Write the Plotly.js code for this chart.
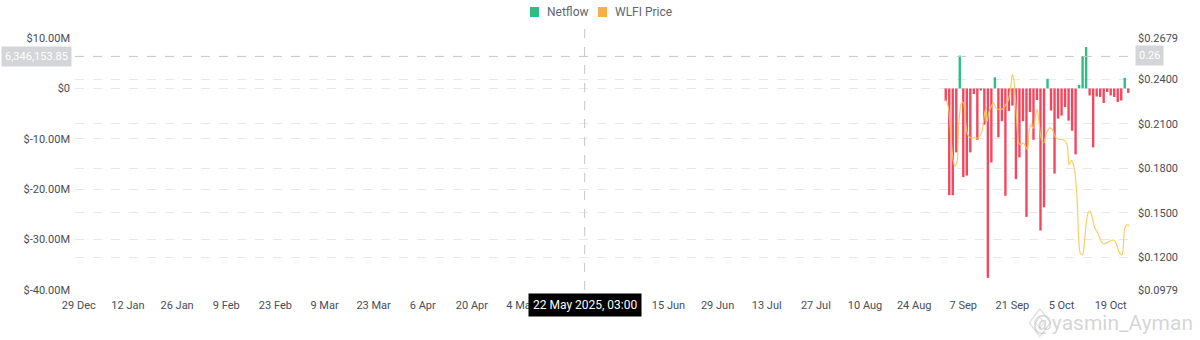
<!DOCTYPE html>
<html>
<head>
<meta charset="utf-8">
<script src="https://cdn.plot.ly/plotly-3.0.1.min.js"></script>
<style>
  html, body { margin: 0; padding: 0; background: #ffffff; }
  #chart { width: 1200px; height: 340px; }
</style>
</head>
<body>
<div id="chart"></div>
<script>
// ---- Data ----
const netflowDates = [
  "2025-09-02","2025-09-03","2025-09-04","2025-09-05","2025-09-06","2025-09-07","2025-09-08",
  "2025-09-09","2025-09-10","2025-09-11","2025-09-12","2025-09-13","2025-09-14","2025-09-15",
  "2025-09-16","2025-09-17","2025-09-18","2025-09-19","2025-09-20","2025-09-21","2025-09-22",
  "2025-09-23","2025-09-24","2025-09-25","2025-09-26","2025-09-27","2025-09-28","2025-09-29",
  "2025-09-30","2025-10-01","2025-10-02","2025-10-03","2025-10-04","2025-10-05","2025-10-06",
  "2025-10-07","2025-10-08","2025-10-09","2025-10-10","2025-10-11","2025-10-12","2025-10-13",
  "2025-10-14","2025-10-15","2025-10-16","2025-10-17","2025-10-18","2025-10-19","2025-10-20",
  "2025-10-21","2025-10-22","2025-10-23","2025-10-24"
];
const netflowValues = [
  -2.5e6, -21.2e6, -21.2e6, -12.7e6, 6.5e6, -17.6e6, -17.3e6,
  -12.7e6, -1.1e6, -10.2e6, -0.4e6, -7.2e6, -37.6e6, -14.7e6,
  2.2e6, -9.7e6, -6.5e6, -21.3e6, -4.5e6, -3.4e6, -18.0e6,
  -13.7e6, -6.5e6, -25.5e6, -4.7e6, -10.2e6, -2.3e6, -28.2e6,
  -23.6e6, 1.9e6, -4.4e6, -16.9e6, -6.0e6, -5.4e6, -3.7e6,
  -6.4e6, -8.4e6, -13.1e6, 0.7e6, 6.4e6, 8.2e6, -1.4e6,
  -11.7e6, -1.6e6, -1.7e6, -2.9e6, -0.7e6, -1.4e6, -1.7e6,
  -2.7e6, -2.4e6, 2.1e6, -0.9e6
];

const priceTimes = [
  "2025-09-01 22:00","2025-09-02 16:00","2025-09-03 11:00","2025-09-04 02:00","2025-09-04 14:00",
  "2025-09-05 04:00","2025-09-05 12:00","2025-09-06 00:00","2025-09-06 12:00","2025-09-07 01:00",
  "2025-09-07 10:00","2025-09-08 02:00","2025-09-08 16:00","2025-09-09 08:00","2025-09-10 07:00",
  "2025-09-11 05:00","2025-09-12 05:00","2025-09-12 20:00","2025-09-13 08:00","2025-09-13 19:00",
  "2025-09-14 08:00","2025-09-15 01:00","2025-09-15 14:00","2025-09-16 11:00","2025-09-17 10:00",
  "2025-09-18 08:00","2025-09-19 00:00","2025-09-19 18:00","2025-09-20 13:00","2025-09-21 00:00",
  "2025-09-21 11:00","2025-09-21 21:00","2025-09-22 11:00","2025-09-22 19:00","2025-09-23 09:00",
  "2025-09-24 01:00","2025-09-24 17:00","2025-09-25 07:00","2025-09-25 18:00","2025-09-26 06:00",
  "2025-09-26 21:00","2025-09-27 16:00","2025-09-28 01:00","2025-09-28 14:00","2025-09-29 07:00",
  "2025-09-29 22:00","2025-09-30 17:00","2025-10-01 15:00","2025-10-02 10:00","2025-10-03 02:00",
  "2025-10-04 00:00","2025-10-05 10:00","2025-10-06 10:00","2025-10-06 21:00","2025-10-07 03:00",
  "2025-10-07 20:00","2025-10-08 12:00","2025-10-09 01:00","2025-10-09 13:00","2025-10-09 22:00",
  "2025-10-10 09:00","2025-10-10 23:00","2025-10-11 10:00","2025-10-11 22:00","2025-10-12 13:00",
  "2025-10-13 01:00","2025-10-13 15:00","2025-10-14 11:00","2025-10-15 11:00","2025-10-16 09:00",
  "2025-10-17 03:00","2025-10-18 07:00","2025-10-19 21:00","2025-10-20 18:00","2025-10-21 09:00",
  "2025-10-22 04:00","2025-10-22 15:00","2025-10-23 00:00","2025-10-23 14:00","2025-10-24 06:00"
];
const priceValues = [
  0.2264,0.2219,0.2016,0.1858,0.1817,
  0.1836,0.1993,0.2176,0.2244,0.2242,
  0.2176,0.2041,0.2012,0.2005,0.2005,
  0.2005,0.2039,0.2129,0.2197,0.2117,
  0.2185,0.2219,0.2242,0.2201,0.2197,
  0.2201,0.2224,0.2253,0.2355,0.2434,
  0.2388,0.2264,0.2039,0.1971,0.1960,
  0.1971,0.1948,0.1926,0.2050,0.2095,
  0.2068,0.2163,0.2197,0.2107,0.1993,
  0.1971,0.2039,0.2073,0.2061,0.2016,
  0.1998,0.1993,0.1971,0.1892,0.1824,
  0.1853,0.1813,0.1722,0.1542,0.1316,
  0.1226,0.1219,0.1271,0.1406,0.1497,
  0.1512,0.1479,0.1397,0.1357,0.1304,
  0.1291,0.1302,0.1316,0.1282,0.1237,
  0.1214,0.1282,0.1395,0.1418,0.1413
];

// x ticks visible in the reference (18 May and 1 Jun are hidden under the crosshair label)
const xTickVals = [
  "2024-12-29","2025-01-12","2025-01-26","2025-02-09","2025-02-23","2025-03-09","2025-03-23",
  "2025-04-06","2025-04-20","2025-05-04","2025-06-15","2025-06-29","2025-07-13","2025-07-27",
  "2025-08-10","2025-08-24","2025-09-07","2025-09-21","2025-10-05","2025-10-19"
];
const xTickText = [
  "29 Dec","12 Jan","26 Jan","9 Feb","23 Feb","9 Mar","23 Mar",
  "6 Apr","20 Apr","4 May","15 Jun","29 Jun","13 Jul","27 Jul",
  "10 Aug","24 Aug","7 Sep","21 Sep","5 Oct","19 Oct"
];
const leftTickVals = [10e6, 0, -10e6, -20e6, -30e6, -40e6];
const leftTickText = ["$10.00M", "$0", "$-10.00M", "$-20.00M", "$-30.00M", "$-40.00M"];
const rightTickVals = [0.2679, 0.24, 0.21, 0.18, 0.15, 0.12, 0.0979];
const rightTickText = ["$0.2679", "$0.2400", "$0.2100", "$0.1800", "$0.1500", "$0.1200", "$0.0979"];
const seriesNames = ["Netflow", "WLFI Price"];

const crossDate = "2025-05-22 03:00";
const crossLabel = "22 May 2025, 03:00";
const crossLeftValue = 6346153.85;
const crossLeftLabel = "6,346,153.85";
const crossRightValue = 0.2563;
const crossRightLabel = "0.26";

// ---- Styling ----
const GREEN = "#2ebd85";
const RED = "#f6465d";
const ORANGE = "#f5b04a";
const LINE = "rgba(250,200,90,0.9)";
const GRID = "#e6e8ea";
const TXT = "#474d57";
const FONT = "Roboto, 'Noto Sans', Arial, sans-serif";

const barColors = netflowValues.map(v => v >= 0 ? GREEN : RED);

const traces = [
  {
    type: "bar", x: netflowDates, y: netflowValues, yaxis: "y",
    marker: { color: barColors, line: { width: 0 } },
    showlegend: false, name: seriesNames[0], hoverinfo: "x+y"
  },
  {
    type: "scatter", mode: "lines", x: priceTimes, y: priceValues, yaxis: "y2",
    line: { color: LINE, width: 1.2, shape: "spline", smoothing: 1 },
    showlegend: false, name: seriesNames[1], hoverinfo: "x+y"
  }
];

// legend geometry (paper coords; plot spans 75..1130 px horizontally, 38..290 px vertically)
const PX = px => (px - 75) / 1055;
const PY = py => (290 - py) / 252;

const layout = {
  width: 1200, height: 340,
  margin: { l: 75, r: 70, t: 38, b: 50, pad: 0 },
  paper_bgcolor: "#ffffff", plot_bgcolor: "#ffffff",
  font: { family: FONT, size: 11, color: TXT },
  barmode: "overlay", bargap: 0.32,
  showlegend: false,
  xaxis: {
    type: "date",
    range: ["2024-12-27 22:00", "2025-10-24 12:00"],
    tickmode: "array", tickvals: xTickVals, ticktext: xTickText,
    showgrid: false, zeroline: false, showline: false, ticks: "",
    ticklabelstandoff: 7,
    tickfont: { family: FONT, size: 11, color: TXT }
  },
  yaxis: {
    range: [-40e6, 10e6],
    tickmode: "array", tickvals: leftTickVals, ticktext: leftTickText,
    showgrid: true, gridcolor: GRID, griddash: "dash", gridwidth: 1,
    zeroline: false, showline: false, ticks: "",
    ticklabelstandoff: 4,
    tickfont: { family: FONT, size: 11, color: TXT }
  },
  yaxis2: {
    overlaying: "y", side: "right",
    range: [0.0979, 0.2679],
    tickmode: "array", tickvals: rightTickVals, ticktext: rightTickText,
    showgrid: true, gridcolor: GRID, griddash: "dash", gridwidth: 1,
    zeroline: false, showline: false, ticks: "",
    ticklabelstandoff: 7,
    tickfont: { family: FONT, size: 11, color: TXT }
  },
  shapes: [
    // legend swatches
    { type: "rect", xref: "paper", yref: "paper", x0: PX(530), x1: PX(539), y0: PY(17), y1: PY(7),
      fillcolor: GREEN, line: { width: 0 } },
    { type: "rect", xref: "paper", yref: "paper", x0: PX(598), x1: PX(607), y0: PY(17), y1: PY(7),
      fillcolor: ORANGE, line: { width: 0 } },
    // crosshair
    { type: "line", xref: "x", yref: "paper", x0: crossDate, x1: crossDate, y0: 0, y1: 1.04,
      line: { color: "#c4c7cc", width: 1, dash: "dash" } },
    { type: "line", xref: "paper", yref: "y", x0: 0, x1: 1.003, y0: crossLeftValue, y1: crossLeftValue,
      line: { color: "#c4c7cc", width: 1, dash: "dash" } },
    // watermark logo (simple diamond outline)
    { type: "path", xref: "paper", yref: "paper",
      path: "M 0.9145 -0.075 L 0.9245 -0.13 L 0.9145 -0.185 L 0.9045 -0.13 Z",
      line: { color: "rgba(190,190,190,0.55)", width: 1.2 }, fillcolor: "rgba(0,0,0,0)" },
    { type: "path", xref: "paper", yref: "paper",
      path: "M 0.9145 -0.108 L 0.9185 -0.13 L 0.9145 -0.152 L 0.9105 -0.13 Z",
      line: { color: "rgba(190,190,190,0.55)", width: 1 }, fillcolor: "rgba(0,0,0,0)" }
  ],
  annotations: [
    // legend labels
    { xref: "paper", yref: "paper", x: PX(545), y: PY(12), xanchor: "left", yanchor: "middle",
      text: seriesNames[0], showarrow: false, font: { family: FONT, size: 12, color: "#5e6673" } },
    { xref: "paper", yref: "paper", x: PX(613), y: PY(12), xanchor: "left", yanchor: "middle",
      text: seriesNames[1], showarrow: false, font: { family: FONT, size: 12, color: "#5e6673" } },
    // crosshair labels
    { xref: "paper", yref: "y", x: 0, y: crossLeftValue, xanchor: "right", yanchor: "middle",
      xshift: -3, text: crossLeftLabel, showarrow: false,
      bgcolor: "#d3d5d8", borderpad: 3, font: { family: FONT, size: 11, color: "#ffffff" } },
    { xref: "paper", yref: "y2", x: 1, y: crossRightValue, xanchor: "left", yanchor: "middle",
      xshift: 5, text: crossRightLabel, showarrow: false,
      bgcolor: "#d3d5d8", borderpad: 3, font: { family: FONT, size: 11, color: "#ffffff" } },
    { xref: "x", yref: "paper", x: crossDate, y: 0, xanchor: "center", yanchor: "top",
      yshift: -3, text: crossLabel, showarrow: false,
      bgcolor: "#000000", borderpad: 4, font: { family: FONT, size: 12, color: "#ffffff" } },
    // watermark
    { xref: "paper", yref: "paper", x: 1.062, y: -0.13, xanchor: "right", yanchor: "middle",
      text: "@yasmin_Ayman", showarrow: false,
      font: { family: FONT, size: 21, color: "rgba(185,185,185,0.6)" } }
  ]
};

Plotly.newPlot("chart", traces, layout, { displayModeBar: false, responsive: false });
</script>
</body>
</html>
